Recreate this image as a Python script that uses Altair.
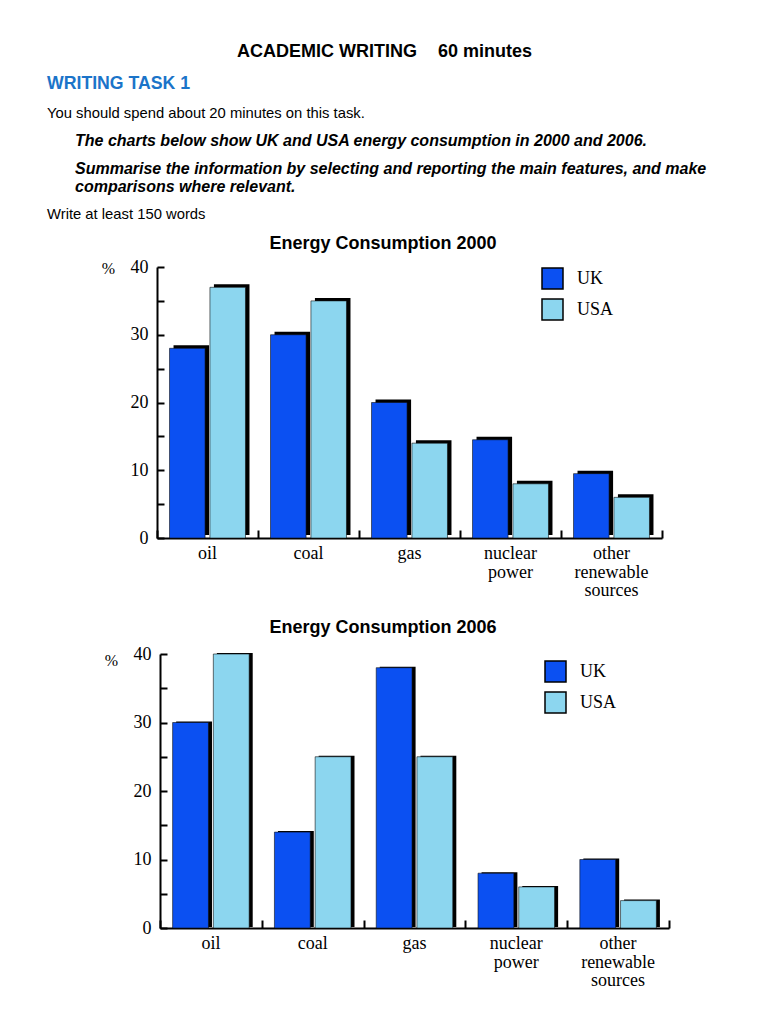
import altair as alt
import pandas as pd

# ---------------- data ----------------
categories = ["oil", "coal", "gas", "nuclear power", "other renewable sources"]
series = ["UK", "USA"]
uk_2000 = [28, 30, 20, 14.5, 9.5]
usa_2000 = [37, 35, 14, 8, 6]
uk_2006 = [30, 14, 38, 8, 10]
usa_2006 = [40, 25, 25, 6, 4]
major_ticks = [0, 10, 20, 30, 40]
minor_ticks = [0, 5, 10, 15, 20, 25, 30, 35, 40]

header_title = ["ACADEMIC WRITING", "60 minutes"]
task_title = "WRITING TASK 1"
instr_plain = ["You should spend about 20 minutes on this task.", "Write at least 150 words"]
instr_bold = [
    "The charts below show UK and USA energy consumption in 2000 and 2006.",
    "Summarise the information by selecting and reporting the main features, and make",
    "comparisons where relevant.",
]
chart_titles = ["Energy Consumption 2000", "Energy Consumption 2006"]

# ---------------- style ----------------
W, H = 752, 1008
OX, OY = 8, 8
UK_BLUE = "#0b50f2"
USA_CYAN = "#8cd6ef"
SANS = "Liberation Sans"
SERIF = "Liberation Serif"


def frame(uk, usa):
    rows = []
    for c, u, a in zip(categories, uk, usa):
        rows.append({"source": c, "country": "UK", "pct": u})
        rows.append({"source": c, "country": "USA", "pct": a})
    return pd.DataFrame(rows)


def text_layer(txt, x, y, size, weight="normal", style="normal", align="left",
               color="black", font=SANS):
    return alt.Chart(pd.DataFrame({"t": [txt]})).mark_text(
        align=align, baseline="middle", fontSize=size, fontWeight=weight,
        fontStyle=style, font=font, color=color
    ).encode(x=alt.value(x - OX), y=alt.value(y - OY), text="t:N")


def bar_chart(df, x0, x1, y0, y40, leg_x, leg_y, pct_y, sh_dy, sh_align):
    xr = [x0 - OX, x1 - OX]
    yr = [y0 - OY, y40 - OY]
    xscale = alt.Scale(domain=categories, range=xr, paddingInner=0, paddingOuter=0)
    yscale = alt.Scale(domain=[0, 40], range=yr)
    base = alt.Chart(df)
    shadow = base.mark_bar(color="black", yOffset=-sh_dy).encode(
        x=alt.X("source:N", scale=xscale, sort=categories,
                axis=alt.Axis(orient="bottom", offset=-(H - yr[0]), title=None,
                              ticks=False, tickSize=0, domain=True, domainWidth=2,
                              domainColor="black", labelAngle=0, labelFont=SERIF,
                              labelFontSize=18, labelColor="black",
                              labelExpr="split(datum.label, ' ')",
                              labelLineHeight=18.5, labelPadding=6.5, grid=False)),
        xOffset=alt.XOffset("country:N",
                            scale=alt.Scale(domain=series, paddingInner=0.12,
                                            paddingOuter=0.31, align=sh_align)),
        y=alt.Y("pct:Q", scale=yscale,
                axis=alt.Axis(orient="left", offset=-xr[0], values=major_ticks,
                              ticks=False, tickSize=0, domain=True, domainWidth=2,
                              domainColor="black", labelFont=SERIF, labelFontSize=18,
                              labelColor="black", labelPadding=9, grid=False,
                              title="%", titleAngle=0, titleFont=SERIF,
                              titleFontSize=16, titleFontWeight="normal",
                              titleColor="black", titleX=-49, titleY=pct_y - OY,
                              titleAlign="center", titleBaseline="middle")),
    )
    bars = base.mark_bar(stroke="#101010", strokeWidth=0.6).encode(
        x=alt.X("source:N", scale=xscale, sort=categories,
                axis=alt.Axis(orient="top", offset=-yr[0], title=None, labels=False,
                              domain=False, ticks=True, tickBand="extent", tickSize=8,
                              tickWidth=2, tickColor="black", grid=False)),
        xOffset=alt.XOffset("country:N",
                            scale=alt.Scale(domain=series, paddingInner=0.12,
                                            paddingOuter=0.31)),
        y=alt.Y("pct:Q", scale=yscale,
                axis=alt.Axis(orient="right", offset=-(W - xr[0]), values=minor_ticks,
                              labels=False, domain=False, ticks=True, tickSize=7,
                              tickWidth=2, tickColor="black", grid=False, title=None)),
        color=alt.Color("country:N",
                        scale=alt.Scale(domain=series, range=[UK_BLUE, USA_CYAN]),
                        legend=alt.Legend(orient="none", legendX=leg_x - OX,
                                          legendY=leg_y - OY, title=None,
                                          symbolType="square", symbolSize=441,
                                          symbolStrokeColor="black",
                                          symbolStrokeWidth=1.5, symbolOpacity=1,
                                          labelFont=SERIF, labelFontSize=18,
                                          labelColor="black", labelOffset=13,
                                          rowPadding=4, padding=0,
                                          direction="vertical")),
    )
    return alt.layer(shadow, bars).resolve_scale(xOffset="independent").resolve_axis(
        x="independent", y="independent")


texts = [
    text_layer(header_title[0], 237, 52, 18, weight="bold"),
    text_layer(header_title[1], 438, 52, 18, weight="bold"),
    text_layer(task_title, 47, 84, 17.7, weight="bold", color="#1b74c9"),
    text_layer(instr_plain[0], 47, 114, 14.8),
    text_layer(instr_bold[0], 75, 141, 16, weight="bold", style="italic"),
    text_layer(instr_bold[1], 75, 169, 16, weight="bold", style="italic"),
    text_layer(instr_bold[2], 75, 187, 16, weight="bold", style="italic"),
    text_layer(instr_plain[1], 47, 215, 14.8),
    text_layer(chart_titles[0], 383, 244, 18, weight="bold", align="center"),
    text_layer(chart_titles[1], 383, 628, 18, weight="bold", align="center"),
]

c2000 = bar_chart(frame(uk_2000, usa_2000), 157, 662, 538, 267, 541, 267, 268, 3, 0.66)
c2006 = bar_chart(frame(uk_2006, usa_2006), 160, 669, 928, 654, 544, 660, 660, 1, 0.64)

chart = alt.layer(*texts, c2000, c2006).resolve_scale(
    x="independent", y="independent", color="independent", xOffset="independent"
).properties(
    width=W, height=H, autosize=alt.AutoSizeParams(type="none"), padding=0
).configure(background="white").configure_view(stroke=None, strokeWidth=0)

chart.save("out.html", embed_options={"renderer": "svg", "actions": False})
